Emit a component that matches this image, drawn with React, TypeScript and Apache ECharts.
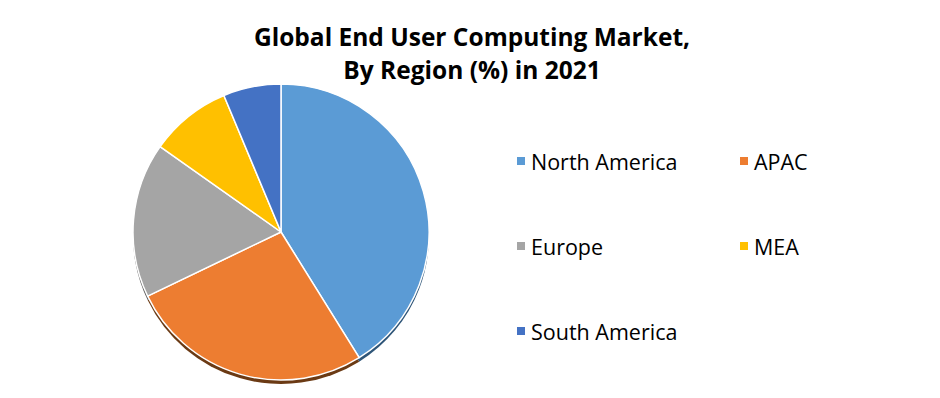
import React, { useEffect, useRef } from "react";
import * as echarts from "echarts";

const categories = ["North America", "APAC", "Europe", "MEA", "South America"];
const values = [41.1, 26.7, 16.9, 8.9, 6.3];
const colors = ["#5B9BD5", "#ED7D31", "#A5A5A5", "#FFC000", "#4472C4"];
const shadowColors = ["#2E5578", "#6B3A14", "#555555", "#7A5C00", "#23395F"];
const titleText = "Global End User Computing Market,\nBy Region (%) in 2021";
const legendLeftColumn = ["North America", "Europe", "South America"];
const legendRightColumn = ["APAC", "MEA"];

export default function App() {
  const ref = useRef<HTMLDivElement>(null);
  useEffect(() => {
    if (!ref.current) return;
    const chart = echarts.init(ref.current, undefined, { renderer: "svg" });
    const legendText = { fontFamily: "Open Sans", fontSize: 21.5, color: "#000" };
    const legendBase = {
      orient: "vertical",
      top: 145,
      itemGap: 63,
      itemWidth: 10,
      itemHeight: 10,
      icon: "rect",
      textStyle: legendText,
      selectedMode: false,
    };
    chart.setOption({
      animation: false,
      backgroundColor: "#fff",
      color: colors,
      title: {
        text: titleText,
        left: 467,
        textAlign: "center",
        top: 15,
        textStyle: {
          fontFamily: "Open Sans",
          fontWeight: "bold",
          fontSize: 24.5,
          lineHeight: 33,
          color: "#000",
        },
      },
      legend: [
        { ...legendBase, left: 510, data: legendLeftColumn },
        { ...legendBase, left: 733, data: legendRightColumn },
      ],
      series: [
        {
          type: "pie",
          silent: true,
          z: 1,
          center: [281, 236],
          radius: 148,
          startAngle: 90,
          clockwise: true,
          label: { show: false },
          labelLine: { show: false },
          emphasis: { disabled: true },
          itemStyle: { borderWidth: 0 },
          data: categories.map((name, i) => ({
            name: name + " shadow",
            value: values[i],
            itemStyle: { color: shadowColors[i] },
          })),
        },
        {
          type: "pie",
          z: 2,
          center: [281, 232],
          radius: 148,
          startAngle: 90,
          clockwise: true,
          label: { show: false },
          labelLine: { show: false },
          emphasis: { disabled: true },
          itemStyle: {
            borderColor: "#fff",
            borderWidth: 1.5,
          },
          data: categories.map((name, i) => ({ name, value: values[i] })),
        },
      ],
    });
    return () => chart.dispose();
  }, []);
  return (
    <div
      ref={ref}
      style={{ position: "fixed", left: 0, top: 0, width: 940, height: 398 }}
    />
  );
}
